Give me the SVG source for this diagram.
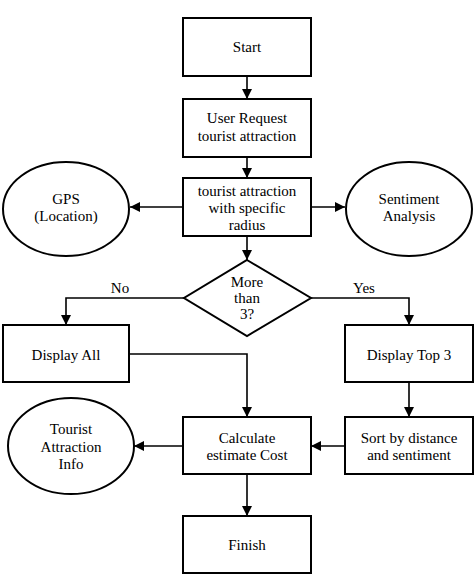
<svg xmlns="http://www.w3.org/2000/svg" width="474" height="574" viewBox="0 0 474 574">
<style>
.n{fill:#fff;stroke:#000;stroke-width:2}
.c{fill:none;stroke:#000;stroke-width:1.6}
text{font-family:"Liberation Serif",serif;font-size:15px;fill:#000;text-anchor:middle}
</style>
<defs>
<marker id="ar" viewBox="0 0 10 10" refX="10" refY="5" markerWidth="10" markerHeight="10" markerUnits="userSpaceOnUse" orient="auto">
<path d="M0,0 L10,5 L0,10 z" fill="#000"/>
</marker>
</defs>
<rect width="474" height="574" fill="#fff"/>
<g id="connectors">
<path class="c" d="M247,76 V99" marker-end="url(#ar)"/>
<path class="c" d="M247,157 V178" marker-end="url(#ar)"/>
<path class="c" d="M183,207 H130" marker-end="url(#ar)"/>
<path class="c" d="M311,207 H345" marker-end="url(#ar)"/>
<path class="c" d="M247,236 V260" marker-end="url(#ar)"/>
<path class="c" d="M184,298 H66 V325" marker-end="url(#ar)"/>
<path class="c" d="M311,298 H409 V325" marker-end="url(#ar)"/>
<path class="c" d="M129,354 H247 V417" marker-end="url(#ar)"/>
<path class="c" d="M409,382 V417" marker-end="url(#ar)"/>
<path class="c" d="M345,446 H311" marker-end="url(#ar)"/>
<path class="c" d="M183,446 H134" marker-end="url(#ar)"/>
<path class="c" d="M247,474 V516" marker-end="url(#ar)"/>
<text x="120" y="293">No</text>
<text x="364" y="293">Yes</text>
</g>
<g id="start"><rect class="n" x="183" y="18" width="128" height="58"/><text x="247" y="52">Start</text></g>
<g id="user-request"><rect class="n" x="183" y="99" width="128" height="58"/><text x="247" y="123">User Request</text><text x="247" y="141">tourist attraction</text></g>
<g id="radius"><rect class="n" x="183" y="178" width="128" height="58"/><text x="247" y="196">tourist attraction</text><text x="247" y="213">with specific</text><text x="247" y="230">radius</text></g>
<g id="gps"><ellipse class="n" cx="66" cy="209" rx="63" ry="47"/><text x="66" y="204">GPS</text><text x="66" y="221">(Location)</text></g>
<g id="sentiment"><ellipse class="n" cx="409" cy="209" rx="63" ry="47"/><text x="409" y="204">Sentiment</text><text x="409" y="221">Analysis</text></g>
<g id="decision"><polygon class="n" points="247,260 311,298 247,336 184,298"/><text x="247" y="287">More</text><text x="247" y="303">than</text><text x="247" y="319">3?</text></g>
<g id="display-all"><rect class="n" x="3" y="325" width="126" height="57"/><text x="66" y="360">Display All</text></g>
<g id="display-top3"><rect class="n" x="345" y="325" width="128" height="57"/><text x="409" y="360">Display Top 3</text></g>
<g id="info"><ellipse class="n" cx="71" cy="446" rx="63" ry="48"/><text x="71" y="434">Tourist</text><text x="71" y="452">Attraction</text><text x="71" y="469">Info</text></g>
<g id="calculate"><rect class="n" x="183" y="417" width="128" height="57"/><text x="247" y="443">Calculate</text><text x="247" y="460">estimate Cost</text></g>
<g id="sort"><rect class="n" x="345" y="417" width="128" height="57"/><text x="409" y="443">Sort by distance</text><text x="409" y="460">and sentiment</text></g>
<g id="finish"><rect class="n" x="183" y="516" width="128" height="57"/><text x="247" y="550">Finish</text></g>
</svg>
